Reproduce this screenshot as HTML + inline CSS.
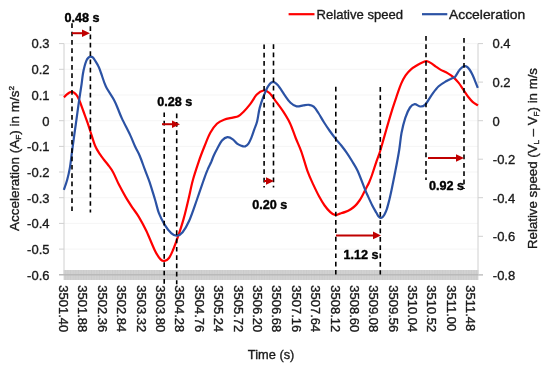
<!DOCTYPE html>
<html><head><meta charset="utf-8"><style>
html,body{margin:0;padding:0;background:#fff;}
svg{display:block;}
.t{font-family:"Liberation Sans",sans-serif;font-size:13px;fill:#1a1a1a;stroke:#1a1a1a;stroke-width:0.35px;}
.b{font-family:"Liberation Sans",sans-serif;font-size:12.6px;font-weight:bold;fill:#000;stroke:#000;stroke-width:0.4px;}
.sub,.sup{font-size:8px;}
</style></head><body>
<svg width="550" height="370" viewBox="0 0 550 370">
<rect width="550" height="370" fill="#fff"/>
<line x1="64" y1="43.6" x2="478" y2="43.6" stroke="#f5f5f5" stroke-width="1"/>
<line x1="64" y1="69.3" x2="478" y2="69.3" stroke="#f5f5f5" stroke-width="1"/>
<line x1="64" y1="95.0" x2="478" y2="95.0" stroke="#f5f5f5" stroke-width="1"/>
<line x1="64" y1="120.7" x2="478" y2="120.7" stroke="#f5f5f5" stroke-width="1"/>
<line x1="64" y1="146.4" x2="478" y2="146.4" stroke="#f5f5f5" stroke-width="1"/>
<line x1="64" y1="172.0" x2="478" y2="172.0" stroke="#f5f5f5" stroke-width="1"/>
<line x1="64" y1="197.7" x2="478" y2="197.7" stroke="#f5f5f5" stroke-width="1"/>
<line x1="64" y1="223.4" x2="478" y2="223.4" stroke="#f5f5f5" stroke-width="1"/>
<line x1="64" y1="249.1" x2="478" y2="249.1" stroke="#f5f5f5" stroke-width="1"/>
<rect x="64" y="270" width="414" height="10" fill="#d6d6d6"/>
<path d="M64.00 270V280 M65.62 270V280 M67.23 270V280 M68.85 270V280 M70.47 270V280 M72.09 270V280 M73.70 270V280 M75.32 270V280 M76.94 270V280 M78.55 270V280 M80.17 270V280 M81.79 270V280 M83.41 270V280 M85.02 270V280 M86.64 270V280 M88.26 270V280 M89.88 270V280 M91.49 270V280 M93.11 270V280 M94.73 270V280 M96.34 270V280 M97.96 270V280 M99.58 270V280 M101.20 270V280 M102.81 270V280 M104.43 270V280 M106.05 270V280 M107.66 270V280 M109.28 270V280 M110.90 270V280 M112.52 270V280 M114.13 270V280 M115.75 270V280 M117.37 270V280 M118.98 270V280 M120.60 270V280 M122.22 270V280 M123.84 270V280 M125.45 270V280 M127.07 270V280 M128.69 270V280 M130.30 270V280 M131.92 270V280 M133.54 270V280 M135.16 270V280 M136.77 270V280 M138.39 270V280 M140.01 270V280 M141.62 270V280 M143.24 270V280 M144.86 270V280 M146.48 270V280 M148.09 270V280 M149.71 270V280 M151.33 270V280 M152.95 270V280 M154.56 270V280 M156.18 270V280 M157.80 270V280 M159.41 270V280 M161.03 270V280 M162.65 270V280 M164.27 270V280 M165.88 270V280 M167.50 270V280 M169.12 270V280 M170.73 270V280 M172.35 270V280 M173.97 270V280 M175.59 270V280 M177.20 270V280 M178.82 270V280 M180.44 270V280 M182.05 270V280 M183.67 270V280 M185.29 270V280 M186.91 270V280 M188.52 270V280 M190.14 270V280 M191.76 270V280 M193.38 270V280 M194.99 270V280 M196.61 270V280 M198.23 270V280 M199.84 270V280 M201.46 270V280 M203.08 270V280 M204.70 270V280 M206.31 270V280 M207.93 270V280 M209.55 270V280 M211.16 270V280 M212.78 270V280 M214.40 270V280 M216.02 270V280 M217.63 270V280 M219.25 270V280 M220.87 270V280 M222.48 270V280 M224.10 270V280 M225.72 270V280 M227.34 270V280 M228.95 270V280 M230.57 270V280 M232.19 270V280 M233.80 270V280 M235.42 270V280 M237.04 270V280 M238.66 270V280 M240.27 270V280 M241.89 270V280 M243.51 270V280 M245.12 270V280 M246.74 270V280 M248.36 270V280 M249.98 270V280 M251.59 270V280 M253.21 270V280 M254.83 270V280 M256.45 270V280 M258.06 270V280 M259.68 270V280 M261.30 270V280 M262.91 270V280 M264.53 270V280 M266.15 270V280 M267.77 270V280 M269.38 270V280 M271.00 270V280 M272.62 270V280 M274.23 270V280 M275.85 270V280 M277.47 270V280 M279.09 270V280 M280.70 270V280 M282.32 270V280 M283.94 270V280 M285.55 270V280 M287.17 270V280 M288.79 270V280 M290.41 270V280 M292.02 270V280 M293.64 270V280 M295.26 270V280 M296.88 270V280 M298.49 270V280 M300.11 270V280 M301.73 270V280 M303.34 270V280 M304.96 270V280 M306.58 270V280 M308.20 270V280 M309.81 270V280 M311.43 270V280 M313.05 270V280 M314.66 270V280 M316.28 270V280 M317.90 270V280 M319.52 270V280 M321.13 270V280 M322.75 270V280 M324.37 270V280 M325.98 270V280 M327.60 270V280 M329.22 270V280 M330.84 270V280 M332.45 270V280 M334.07 270V280 M335.69 270V280 M337.30 270V280 M338.92 270V280 M340.54 270V280 M342.16 270V280 M343.77 270V280 M345.39 270V280 M347.01 270V280 M348.62 270V280 M350.24 270V280 M351.86 270V280 M353.48 270V280 M355.09 270V280 M356.71 270V280 M358.33 270V280 M359.95 270V280 M361.56 270V280 M363.18 270V280 M364.80 270V280 M366.41 270V280 M368.03 270V280 M369.65 270V280 M371.27 270V280 M372.88 270V280 M374.50 270V280 M376.12 270V280 M377.73 270V280 M379.35 270V280 M380.97 270V280 M382.59 270V280 M384.20 270V280 M385.82 270V280 M387.44 270V280 M389.05 270V280 M390.67 270V280 M392.29 270V280 M393.91 270V280 M395.52 270V280 M397.14 270V280 M398.76 270V280 M400.38 270V280 M401.99 270V280 M403.61 270V280 M405.23 270V280 M406.84 270V280 M408.46 270V280 M410.08 270V280 M411.70 270V280 M413.31 270V280 M414.93 270V280 M416.55 270V280 M418.16 270V280 M419.78 270V280 M421.40 270V280 M423.02 270V280 M424.63 270V280 M426.25 270V280 M427.87 270V280 M429.48 270V280 M431.10 270V280 M432.72 270V280 M434.34 270V280 M435.95 270V280 M437.57 270V280 M439.19 270V280 M440.80 270V280 M442.42 270V280 M444.04 270V280 M445.66 270V280 M447.27 270V280 M448.89 270V280 M450.51 270V280 M452.12 270V280 M453.74 270V280 M455.36 270V280 M456.98 270V280 M458.59 270V280 M460.21 270V280 M461.83 270V280 M463.45 270V280 M465.06 270V280 M466.68 270V280 M468.30 270V280 M469.91 270V280 M471.53 270V280 M473.15 270V280 M474.77 270V280 M476.38 270V280 M478.00 270V280" stroke="#c4c4c4" stroke-width="0.6"/>
<line x1="64" y1="43.6" x2="64" y2="274.8" stroke="#d0d0d0" stroke-width="1"/>
<line x1="478" y1="43.6" x2="478" y2="274.8" stroke="#d0d0d0" stroke-width="1"/>
<line x1="59" y1="274.8" x2="483" y2="274.8" stroke="#bababa" stroke-width="1.4"/>
<line x1="59" y1="43.6" x2="64" y2="43.6" stroke="#d0d0d0" stroke-width="1"/>
<line x1="59" y1="69.3" x2="64" y2="69.3" stroke="#d0d0d0" stroke-width="1"/>
<line x1="59" y1="95.0" x2="64" y2="95.0" stroke="#d0d0d0" stroke-width="1"/>
<line x1="59" y1="120.7" x2="64" y2="120.7" stroke="#d0d0d0" stroke-width="1"/>
<line x1="59" y1="146.4" x2="64" y2="146.4" stroke="#d0d0d0" stroke-width="1"/>
<line x1="59" y1="172.0" x2="64" y2="172.0" stroke="#d0d0d0" stroke-width="1"/>
<line x1="59" y1="197.7" x2="64" y2="197.7" stroke="#d0d0d0" stroke-width="1"/>
<line x1="59" y1="223.4" x2="64" y2="223.4" stroke="#d0d0d0" stroke-width="1"/>
<line x1="59" y1="249.1" x2="64" y2="249.1" stroke="#d0d0d0" stroke-width="1"/>
<line x1="478" y1="43.6" x2="483" y2="43.6" stroke="#d0d0d0" stroke-width="1"/>
<line x1="478" y1="82.1" x2="483" y2="82.1" stroke="#d0d0d0" stroke-width="1"/>
<line x1="478" y1="120.7" x2="483" y2="120.7" stroke="#d0d0d0" stroke-width="1"/>
<line x1="478" y1="159.2" x2="483" y2="159.2" stroke="#d0d0d0" stroke-width="1"/>
<line x1="478" y1="197.7" x2="483" y2="197.7" stroke="#d0d0d0" stroke-width="1"/>
<line x1="478" y1="236.3" x2="483" y2="236.3" stroke="#d0d0d0" stroke-width="1"/>
<line x1="478" y1="274.8" x2="483" y2="274.8" stroke="#d0d0d0" stroke-width="1"/>
<text x="49.5" y="48.4" text-anchor="end" class="t">0.3</text>
<text x="49.5" y="74.1" text-anchor="end" class="t">0.2</text>
<text x="49.5" y="99.8" text-anchor="end" class="t">0.1</text>
<text x="49.5" y="125.5" text-anchor="end" class="t">0</text>
<text x="49.5" y="151.2" text-anchor="end" class="t">-0.1</text>
<text x="49.5" y="176.8" text-anchor="end" class="t">-0.2</text>
<text x="49.5" y="202.5" text-anchor="end" class="t">-0.3</text>
<text x="49.5" y="228.2" text-anchor="end" class="t">-0.4</text>
<text x="49.5" y="253.9" text-anchor="end" class="t">-0.5</text>
<text x="49.5" y="279.6" text-anchor="end" class="t">-0.6</text>
<text x="492.5" y="48.4" class="t">0.4</text>
<text x="492.5" y="86.9" class="t">0.2</text>
<text x="492.5" y="125.5" class="t">0</text>
<text x="492.8" y="164.0" class="t">-0.2</text>
<text x="492.8" y="202.5" class="t">-0.4</text>
<text x="492.8" y="241.1" class="t">-0.6</text>
<text x="492.8" y="279.6" class="t">-0.8</text>
<text transform="translate(59.0,285.3) rotate(90)" class="t">3501.40</text>
<text transform="translate(78.4,285.3) rotate(90)" class="t">3501.88</text>
<text transform="translate(97.8,285.3) rotate(90)" class="t">3502.36</text>
<text transform="translate(117.2,285.3) rotate(90)" class="t">3502.84</text>
<text transform="translate(136.6,285.3) rotate(90)" class="t">3503.32</text>
<text transform="translate(155.9,285.3) rotate(90)" class="t">3503.80</text>
<text transform="translate(175.3,285.3) rotate(90)" class="t">3504.28</text>
<text transform="translate(194.7,285.3) rotate(90)" class="t">3504.76</text>
<text transform="translate(214.1,285.3) rotate(90)" class="t">3505.24</text>
<text transform="translate(233.5,285.3) rotate(90)" class="t">3505.72</text>
<text transform="translate(252.9,285.3) rotate(90)" class="t">3506.20</text>
<text transform="translate(272.3,285.3) rotate(90)" class="t">3506.68</text>
<text transform="translate(291.7,285.3) rotate(90)" class="t">3507.16</text>
<text transform="translate(311.1,285.3) rotate(90)" class="t">3507.64</text>
<text transform="translate(330.5,285.3) rotate(90)" class="t">3508.12</text>
<text transform="translate(349.9,285.3) rotate(90)" class="t">3508.60</text>
<text transform="translate(369.2,285.3) rotate(90)" class="t">3509.08</text>
<text transform="translate(388.6,285.3) rotate(90)" class="t">3509.56</text>
<text transform="translate(408.0,285.3) rotate(90)" class="t">3510.04</text>
<text transform="translate(427.4,285.3) rotate(90)" class="t">3510.52</text>
<text transform="translate(446.8,285.3) rotate(90)" class="t">3511.00</text>
<text transform="translate(466.2,285.3) rotate(90)" class="t">3511.48</text>
<path d="M64.0 97.4 C64.5 96.9 66.0 95.2 66.9 94.4 C67.8 93.6 68.7 92.8 69.5 92.4 C70.3 92.0 71.0 91.8 71.7 91.8 C72.5 91.8 73.2 92.1 74.0 92.7 C74.8 93.3 75.7 94.0 76.6 95.2 C77.5 96.4 78.1 97.4 79.2 100.0 C80.3 102.6 81.9 107.2 83.3 111.0 C84.7 114.8 86.4 119.4 87.6 122.8 C88.8 126.2 89.2 127.7 90.4 131.5 C91.7 135.3 93.5 141.9 95.1 145.7 C96.7 149.5 98.5 151.9 99.9 154.2 C101.4 156.5 102.5 157.8 103.8 159.5 C105.1 161.2 106.2 162.4 107.8 164.5 C109.3 166.6 111.2 168.8 113.1 172.2 C114.9 175.5 116.8 180.5 118.9 184.6 C121.0 188.7 123.4 193.1 125.6 196.9 C127.8 200.7 130.0 204.0 132.2 207.3 C134.4 210.6 136.4 212.9 138.8 216.8 C141.2 220.8 143.7 225.3 146.4 231.0 C149.1 236.7 152.7 246.2 155.1 251.0 C157.5 255.8 159.2 258.0 160.8 259.6 C162.4 261.2 163.2 261.2 164.6 260.9 C166.0 260.6 167.6 259.8 169.0 258.0 C170.4 256.2 171.5 253.5 173.0 250.0 C174.5 246.5 176.1 242.1 177.9 236.9 C179.7 231.7 181.9 225.1 183.6 218.9 C185.3 212.8 186.8 206.5 188.3 200.0 C189.9 193.5 191.1 186.5 192.9 180.0 C194.7 173.5 197.0 166.8 198.9 161.1 C200.8 155.4 202.7 150.7 204.6 146.0 C206.5 141.3 208.2 136.4 210.3 132.7 C212.4 129.0 214.6 126.0 216.9 123.8 C219.2 121.6 221.3 120.7 224.0 119.7 C226.7 118.7 230.4 118.2 232.8 117.6 C235.2 117.0 236.4 117.3 238.2 116.3 C240.0 115.3 241.6 113.7 243.6 111.7 C245.6 109.7 248.0 106.9 250.2 104.1 C252.4 101.2 254.6 96.9 256.8 94.6 C259.0 92.3 261.4 90.8 263.5 90.5 C265.6 90.2 267.1 90.9 269.1 92.7 C271.2 94.5 273.4 98.1 275.8 101.3 C278.2 104.5 280.9 108.0 283.3 111.7 C285.7 115.4 287.9 118.8 290.0 123.2 C292.1 127.6 293.8 133.2 295.7 138.0 C297.6 142.8 299.4 146.2 301.4 151.8 C303.4 157.4 305.6 165.9 307.6 171.4 C309.6 176.9 311.4 180.5 313.3 184.6 C315.2 188.7 317.0 192.5 318.9 196.0 C320.8 199.5 322.7 202.8 324.6 205.5 C326.5 208.2 328.6 210.5 330.3 212.1 C332.0 213.7 333.4 214.7 335.0 214.9 C336.6 215.2 338.3 214.1 340.0 213.6 C341.7 213.1 343.6 212.6 345.4 211.9 C347.2 211.2 349.2 210.2 350.8 209.2 C352.4 208.2 353.7 207.3 355.1 205.9 C356.6 204.5 358.1 202.5 359.5 200.5 C360.9 198.5 362.1 196.0 363.2 194.0 C364.3 192.0 365.0 190.6 366.0 188.6 C367.0 186.6 368.2 184.5 369.2 182.2 C370.2 179.9 370.8 178.5 372.0 175.0 C373.2 171.5 375.1 165.6 376.5 161.4 C377.9 157.2 378.9 155.4 380.5 150.0 C382.1 144.6 384.5 135.8 386.4 129.2 C388.3 122.6 390.1 116.3 392.0 110.3 C393.9 104.3 396.2 97.7 397.7 93.2 C399.2 88.8 399.9 86.6 401.2 83.6 C402.5 80.6 404.0 77.8 405.6 75.4 C407.2 73.0 409.0 71.0 411.0 69.3 C413.0 67.6 415.5 66.2 417.5 65.0 C419.5 63.8 421.4 62.9 422.9 62.3 C424.4 61.7 425.2 61.0 426.6 61.2 C428.0 61.4 430.0 62.5 431.5 63.4 C433.0 64.3 434.3 65.6 435.8 66.6 C437.3 67.6 438.4 68.5 440.4 69.6 C442.3 70.7 445.4 71.9 447.5 73.1 C449.6 74.3 450.9 75.0 452.7 76.6 C454.5 78.2 456.6 80.3 458.5 82.6 C460.4 84.9 462.1 88.0 463.8 90.4 C465.5 92.8 467.0 95.3 468.5 97.2 C470.0 99.1 471.0 100.5 472.6 101.9 C474.2 103.3 477.1 104.8 478.0 105.4" fill="none" stroke="#ff0000" stroke-width="2.2" stroke-linejoin="round" stroke-linecap="butt"/>
<path d="M63.8 189.9 C64.4 188.2 66.2 183.4 67.2 179.7 C68.2 176.0 69.1 172.1 69.9 167.6 C70.7 163.1 71.2 157.5 71.9 152.7 C72.6 147.8 73.2 143.1 73.8 138.5 C74.4 133.9 74.8 131.2 75.7 125.0 C76.6 118.8 78.0 108.0 79.0 101.2 C80.0 94.4 80.9 88.5 81.6 84.0 C82.2 79.5 82.4 77.0 82.9 74.0 C83.4 71.0 84.1 68.0 84.7 65.8 C85.3 63.6 85.8 62.0 86.4 60.6 C87.0 59.2 87.8 58.3 88.5 57.6 C89.2 56.9 89.9 56.6 90.6 56.6 C91.3 56.6 92.1 56.8 92.8 57.4 C93.5 58.0 94.0 58.7 94.9 60.2 C95.8 61.7 97.4 64.1 98.4 66.3 C99.5 68.5 100.0 70.2 101.2 73.5 C102.4 76.8 103.7 81.8 105.8 86.2 C107.9 90.6 111.9 95.9 113.9 99.7 C115.9 103.5 116.7 105.8 118.0 109.0 C119.3 112.2 120.0 114.3 122.0 118.6 C124.0 122.9 127.9 130.3 130.1 134.9 C132.3 139.5 133.4 142.8 135.0 146.3 C136.6 149.9 138.3 152.4 139.9 156.2 C141.5 160.0 143.1 164.9 144.7 169.2 C146.3 173.5 147.9 177.0 149.6 182.1 C151.3 187.2 153.4 194.3 155.0 199.5 C156.6 204.7 157.3 209.0 158.9 213.2 C160.5 217.4 162.6 221.3 164.6 224.6 C166.6 227.9 169.1 231.3 171.2 233.1 C173.2 234.9 175.0 235.8 176.9 235.6 C178.8 235.4 180.6 234.7 182.6 232.2 C184.6 229.7 186.8 226.2 189.2 220.8 C191.6 215.4 194.4 206.8 196.8 200.0 C199.2 193.2 201.9 185.1 203.7 180.0 C205.5 174.9 206.3 172.6 207.6 169.6 C208.8 166.6 210.1 164.4 211.2 162.0 C212.2 159.6 212.9 157.4 213.9 155.2 C214.9 152.9 216.0 150.9 217.3 148.5 C218.7 146.1 220.3 142.5 222.0 140.6 C223.7 138.7 225.6 137.4 227.4 137.2 C229.2 137.0 231.2 138.2 232.8 139.3 C234.4 140.4 235.7 142.5 237.1 143.6 C238.5 144.7 240.2 145.3 241.5 145.8 C242.8 146.3 244.0 146.8 245.2 146.4 C246.4 146.0 247.5 145.0 248.5 143.6 C249.5 142.2 250.2 140.6 251.2 138.2 C252.2 135.8 253.4 131.9 254.4 129.1 C255.4 126.3 256.2 125.0 257.1 121.5 C258.0 118.0 258.6 112.1 259.7 107.9 C260.8 103.7 262.1 100.1 263.5 96.5 C264.9 92.9 266.6 88.5 268.2 86.1 C269.8 83.7 271.3 82.1 272.9 81.9 C274.5 81.7 275.8 83.0 277.7 85.1 C279.6 87.2 282.2 91.6 284.3 94.6 C286.4 97.5 288.4 100.8 290.5 102.8 C292.6 104.8 294.5 106.0 296.6 106.4 C298.7 106.8 301.2 105.7 303.3 105.4 C305.4 105.1 307.2 104.6 308.9 104.8 C310.6 105.0 312.1 105.3 313.7 106.7 C315.3 108.1 316.7 110.4 318.4 113.0 C320.1 115.6 322.2 119.5 324.1 122.5 C326.0 125.5 327.9 128.3 329.8 131.0 C331.7 133.7 333.6 136.2 335.5 138.6 C337.4 141.0 339.2 142.8 341.1 145.2 C343.0 147.6 345.0 150.2 346.8 152.8 C348.6 155.4 350.2 158.0 352.0 161.0 C353.8 164.0 355.4 166.0 357.6 170.8 C359.8 175.6 363.5 185.7 365.1 189.7 C366.7 193.7 366.2 192.4 367.4 195.0 C368.6 197.6 370.8 202.5 372.3 205.5 C373.8 208.5 375.4 211.0 376.4 212.8 C377.4 214.6 377.7 215.3 378.4 216.2 C379.1 217.0 379.7 217.8 380.4 217.9 C381.1 218.1 381.8 217.7 382.5 217.1 C383.2 216.5 383.8 215.9 384.5 214.5 C385.2 213.1 386.1 211.2 386.9 208.8 C387.7 206.4 388.5 203.1 389.3 199.9 C390.1 196.7 390.6 194.5 391.6 189.7 C392.6 184.8 394.1 177.4 395.4 170.8 C396.7 164.2 398.2 156.3 399.2 150.0 C400.2 143.7 400.5 138.3 401.5 133.0 C402.5 127.7 403.9 122.2 405.3 117.9 C406.7 113.7 408.4 109.8 410.0 107.5 C411.6 105.2 413.0 104.4 414.7 104.2 C416.4 104.0 418.6 106.4 420.4 106.5 C422.1 106.6 423.3 106.5 425.2 104.6 C427.1 102.7 429.4 98.1 431.6 95.1 C433.9 92.0 436.2 88.6 438.7 86.3 C441.2 84.0 444.3 82.4 446.6 81.0 C448.9 79.6 451.3 78.7 452.7 78.0 C454.1 77.3 453.9 78.1 455.0 76.9 C456.1 75.7 457.9 72.1 459.0 70.6 C460.1 69.0 460.9 68.3 461.8 67.6 C462.7 66.9 463.6 66.3 464.5 66.2 C465.4 66.1 466.2 66.2 467.0 66.8 C467.8 67.3 468.6 68.2 469.5 69.5 C470.4 70.8 471.6 72.9 472.6 74.9 C473.6 76.9 474.4 79.4 475.3 81.6 C476.2 83.8 477.4 86.8 477.8 87.8" fill="none" stroke="#2b52a4" stroke-width="2.2" stroke-linejoin="round" stroke-linecap="butt"/>
<line x1="72" y1="23.3" x2="72" y2="211" stroke="#000" stroke-width="1.6" stroke-dasharray="4.7 3.63"/>
<line x1="90.4" y1="26.2" x2="90.4" y2="212.4" stroke="#000" stroke-width="1.6" stroke-dasharray="4.7 3.63"/>
<line x1="164.2" y1="112.4" x2="164.2" y2="284.3" stroke="#000" stroke-width="1.6" stroke-dasharray="4.7 3.63"/>
<line x1="176.7" y1="113.6" x2="176.7" y2="284.3" stroke="#000" stroke-width="1.6" stroke-dasharray="4.7 3.63"/>
<line x1="264.1" y1="44.4" x2="264.1" y2="187.6" stroke="#000" stroke-width="1.6" stroke-dasharray="4.7 3.63"/>
<line x1="273.5" y1="44.2" x2="273.5" y2="187.6" stroke="#000" stroke-width="1.6" stroke-dasharray="4.7 3.63"/>
<line x1="335.8" y1="86.8" x2="335.8" y2="274.5" stroke="#000" stroke-width="1.6" stroke-dasharray="4.7 3.63"/>
<line x1="380.3" y1="87" x2="380.3" y2="274.5" stroke="#000" stroke-width="1.6" stroke-dasharray="4.7 3.63"/>
<line x1="426" y1="36" x2="426" y2="180" stroke="#000" stroke-width="1.6" stroke-dasharray="4.7 3.63"/>
<line x1="464" y1="38" x2="464" y2="189" stroke="#000" stroke-width="1.6" stroke-dasharray="4.7 3.63"/>
<line x1="72" y1="33.2" x2="83" y2="33.2" stroke="#c00000" stroke-width="2"/>
<path d="M82 29.400000000000002 L90 33.2 L82 37.0 Z" fill="#c00000"/>
<line x1="162" y1="124.2" x2="173" y2="124.2" stroke="#c00000" stroke-width="2"/>
<path d="M172 120.4 L180 124.2 L172 128.0 Z" fill="#c00000"/>
<line x1="264" y1="181" x2="267" y2="181" stroke="#c00000" stroke-width="2"/>
<path d="M266 177.2 L274 181 L266 184.8 Z" fill="#c00000"/>
<line x1="336" y1="235.4" x2="374" y2="235.4" stroke="#c00000" stroke-width="2"/>
<path d="M373 231.6 L381 235.4 L373 239.20000000000002 Z" fill="#c00000"/>
<line x1="428" y1="158" x2="457" y2="158" stroke="#c00000" stroke-width="2"/>
<path d="M456 154.2 L464 158 L456 161.8 Z" fill="#c00000"/>
<text x="64.5" y="21.8" class="b">0.48 s</text>
<text x="157.2" y="105.7" class="b">0.28 s</text>
<text x="252.2" y="209.2" class="b">0.20 s</text>
<text x="343.6" y="258.6" class="b">1.12 s</text>
<text x="429" y="190" class="b">0.92 s</text>
<line x1="288.6" y1="14.2" x2="314.5" y2="14.2" stroke="#ff0000" stroke-width="2.2"/>
<text x="316.6" y="18.9" class="t" textLength="86.5" lengthAdjust="spacingAndGlyphs">Relative speed</text>
<line x1="422" y1="14.2" x2="447.3" y2="14.2" stroke="#2b52a4" stroke-width="2.2"/>
<text x="449" y="18.9" class="t" textLength="76.3" lengthAdjust="spacingAndGlyphs">Acceleration</text>
<text transform="translate(19.3,158.5) rotate(-90)" text-anchor="middle" class="t" textLength="145" lengthAdjust="spacingAndGlyphs">Acceleration (A<tspan class="sub" dy="2">F</tspan><tspan dy="-2">) in m/s</tspan><tspan class="sup" dy="-5">2</tspan></text>
<text transform="translate(537,158.5) rotate(-90)" text-anchor="middle" class="t" textLength="181" lengthAdjust="spacingAndGlyphs">Relative speed (V<tspan class="sub" dy="2">L</tspan><tspan dy="-2"> – V</tspan><tspan class="sub" dy="2">F</tspan><tspan dy="-2">) in m/s</tspan></text>
<text x="271.1" y="359.1" text-anchor="middle" class="t" textLength="46.5" lengthAdjust="spacingAndGlyphs">Time (s)</text>
</svg>
</body></html>
